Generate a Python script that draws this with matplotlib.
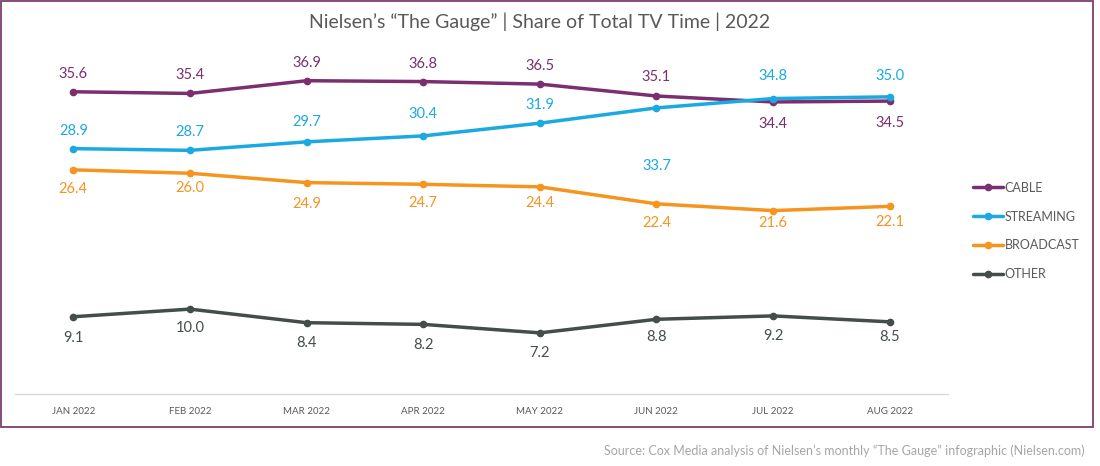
import matplotlib
matplotlib.use("Agg")
import matplotlib.pyplot as plt
from matplotlib.patches import Rectangle

months = ["JAN 2022", "FEB 2022", "MAR 2022", "APR 2022", "MAY 2022", "JUN 2022", "JUL 2022", "AUG 2022"]
cable = [35.6, 35.4, 36.9, 36.8, 36.5, 35.1, 34.4, 34.5]
streaming = [28.9, 28.7, 29.7, 30.4, 31.9, 33.7, 34.8, 35.0]
broadcast = [26.4, 26.0, 24.9, 24.7, 24.4, 22.4, 21.6, 22.1]
other = [9.1, 10.0, 8.4, 8.2, 7.2, 8.8, 9.2, 8.5]
series_names = ["CABLE", "STREAMING", "BROADCAST", "OTHER"]

# styling (colors and label offsets in pixels, positive = up)
colors = ["#7B2F6F", "#1BA9E1", "#F7941E", "#434D4C"]
label_offsets = [
    [18, 18, 18, 18, 18, 19, -22, -22],
    [18, 18, 20, 22, 18, -58, 23, 21],
    [-19, -15, -21, -19, -16, -19, -12, -16],
    [-21, -19, -20, -21, -20, -18, -20, -15],
]

plt.rcParams['font.family'] = ['Lato', 'DejaVu Sans']

fig = plt.figure(figsize=(11, 4.66), dpi=100)
ax = fig.add_axes([15/1100, 1 - 394/466, 933/1100, (394 - 54.4)/466])

all_series = [cable, streaming, broadcast, other]
x = list(range(len(months)))
handles = []
for name, vals, col, offs in zip(series_names, all_series, colors, label_offsets):
    h, = ax.plot(x, vals, color=col, lw=2.5, marker='o', markersize=4.5, label=name,
                 solid_capstyle='round', zorder=3)
    handles.append(h)
    for xi, v, o in zip(x, vals, offs):
        ax.annotate(f"{v:.1f}", (xi, v), xytext=(0, o), textcoords='offset pixels',
                    ha='center', va='center', fontsize=10.5, color=col)

ax.set_xlim(-0.5, 7.5)
ax.set_ylim(0, 40)
ax.set_xticks(x)
ax.set_xticklabels(months, fontsize=7, color='#595959')
ax.tick_params(axis='x', length=0, pad=9)
ax.set_yticks([])
for s in ['top', 'right', 'left']:
    ax.spines[s].set_visible(False)
ax.spines['bottom'].set_color('#D9D9D9')
ax.spines['bottom'].set_linewidth(1)

fig.text(540/1100, 1 - 22/466, "Nielsen\u2019s \u201cThe Gauge\u201d | Share of Total TV Time | 2022",
         ha='center', va='center', fontsize=14, color='#595959')

leg = fig.legend(handles=handles, loc='center left', bbox_to_anchor=(962/1100, 1 - 231/466),
                 frameon=False, fontsize=9, labelspacing=1.35, handlelength=2.4,
                 handletextpad=0.1, labelcolor='#595959')

fig.patches.append(Rectangle((1/1100, 1 - 427/466), 1092/1100, 426/466, transform=fig.transFigure,
                             fill=False, edgecolor='#7B3F70', lw=1.3))

fig.text(1085/1100, 1 - 451/466,
         "Source: Cox Media analysis of Nielsen\u2019s monthly \u201cThe Gauge\u201d infographic (Nielsen.com)",
         ha='right', va='center', fontsize=9, color='#A6A6A6')

fig.savefig("out.png", dpi=100)
